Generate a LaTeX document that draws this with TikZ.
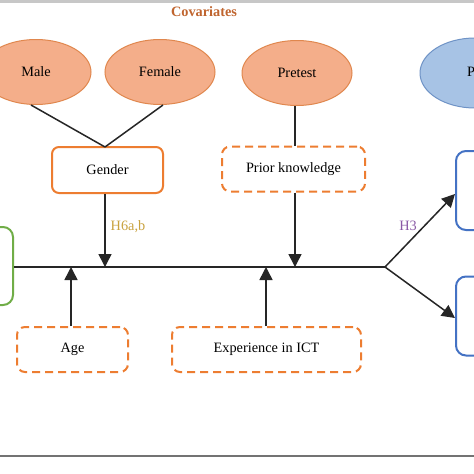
\documentclass[tikz,border=0pt]{standalone}
\usepackage{fontspec}
\setmainfont{Liberation Serif}
\usetikzlibrary{shapes.geometric,arrows.meta}
\definecolor{ofill}{HTML}{F4AE8A}
\definecolor{oline}{HTML}{E0874E}
\definecolor{obox}{HTML}{ED7D31}
\definecolor{covc}{HTML}{C0652F}
\definecolor{bfill}{HTML}{A7C3E5}
\definecolor{bline}{HTML}{6F93C6}
\definecolor{bbox}{HTML}{4472C4}
\definecolor{gbox}{HTML}{70AD47}
\definecolor{hgold}{HTML}{C9A23E}
\definecolor{hpurp}{HTML}{8A5AA6}
\tikzset{
  txt/.style={font=\fontsize{14.3}{16}\selectfont, text=black},
  oval/.style={ellipse, draw=oline, line width=1pt, fill=ofill, minimum width=110pt, minimum height=65pt, inner sep=0pt, txt},
  boval/.style={ellipse, draw=bline, line width=1pt, fill=bfill, minimum width=110pt, minimum height=70pt, inner sep=0pt},
  solidbox/.style={rectangle, rounded corners=7pt, draw=obox, line width=2pt, minimum height=46pt, inner sep=0pt, txt},
  dashbox/.style={rectangle, rounded corners=8pt, draw=obox, line width=2pt, dash pattern=on 8pt off 5pt, minimum height=45pt, inner sep=0pt, txt},
  bluebox/.style={rectangle, rounded corners=10pt, draw=bbox, line width=2pt, minimum width=100pt, minimum height=79pt, inner sep=0pt},
  greenbox/.style={rectangle, rounded corners=10pt, draw=gbox, line width=2pt, minimum width=80pt, minimum height=78pt, inner sep=0pt},
  conn/.style={draw=black!85, line width=1.5pt},
  arr/.style={conn, -{Triangle[length=13pt,width=13pt]}},
  lab/.style={font=\fontsize{14.3}{16}\selectfont},
}
\begin{document}
\begin{tikzpicture}[x=1pt,y=-1pt]
\useasboundingbox (0,0) rectangle (474,474);
\clip (0,0) rectangle (474,474);
\fill[white] (0,0) rectangle (474,474);
% frame lines
\fill[black!22] (0,0) rectangle (474,2.5);
\draw[black!55, line width=1.5pt] (0,456) -- (474,456);

\node[font=\fontsize{14.3}{16}\selectfont\bfseries, text=covc] (cov) at (204,12) {Covariates};

\node[oval] (male) at (36,72) {Male};
\node[oval] (female) at (160,72) {Female};
\node[oval] (pretest) at (297,73) {Pretest};
\node[boval] (post) at (475,73) {};
\node[txt, anchor=west, inner sep=0pt] (postt) at (467,72) {P};

\node[solidbox, minimum width=111pt] (gender) at (107.5,170) {Gender};
\node[dashbox, minimum width=143pt] (prior) at (293.5,169) {Prior knowledge};
\node[dashbox, minimum width=111pt] (age) at (72.5,349.5) {Age};
\node[dashbox, minimum width=189pt] (exp) at (266.5,349.5) {Experience in ICT};

\node[greenbox] (grn) at (-27,266) {};
\node[bluebox] (out1) at (506,190.5) {};
\node[bluebox] (out2) at (506,316) {};

\coordinate (apex) at (105,147);
\coordinate (j) at (385,267);
\coordinate (gm) at (105,267);
\coordinate (pm) at (295,267);
\coordinate (am) at (71,267);
\coordinate (em) at (266,267);
\coordinate (u1) at (455,194);
\coordinate (u2) at (455,318);

\draw[conn] (male.south) ++(-5,0) -- (apex);
\draw[conn] (female.south) ++(3,0) -- (apex);
\draw[conn] (pretest.south -| pm) -- (prior.north -| pm);

\draw[conn] (grn.east |- j) -- (j);
\draw[arr] (gender.south -| gm) -- (gm);
\draw[arr] (prior.south -| pm) -- (pm);
\draw[arr] (age.north -| am) -- (am);
\draw[arr] (exp.north -| em) -- (em);
\draw[arr] (j) -- (u1);
\draw[arr] (j) -- (u2);

\node[lab, text=hgold] (h6) at (128,227) {H6a,b};
\node[lab, text=hpurp] (h3) at (408,226) {H3};
\end{tikzpicture}
\end{document}
